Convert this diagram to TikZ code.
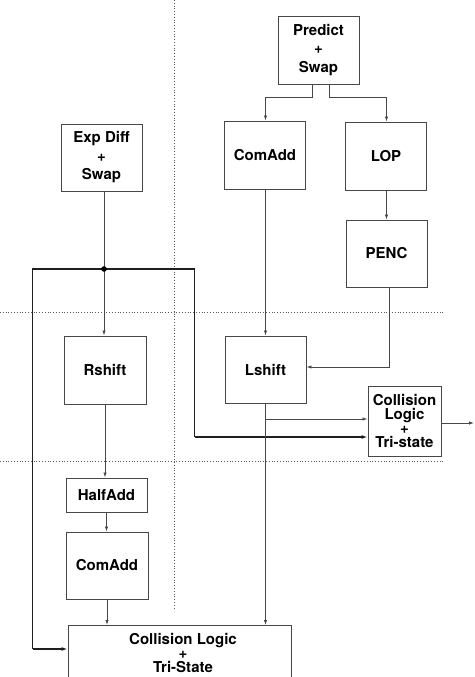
\documentclass[tikz,border=0pt]{standalone}
\usepackage{fontspec}
\setmainfont{TeX Gyre Heros}
\usetikzlibrary{arrows.meta,calc}
\begin{document}
\begin{tikzpicture}[x=1pt,y=-1pt,
  box/.style={draw=black!72,line width=0.9pt,inner sep=0pt,align=center,
    font=\bfseries\fontsize{15}{18.5}\selectfont},
  tight/.style={font=\bfseries\fontsize{15}{14}\selectfont},
  ln/.style={draw=black!72,line width=0.8pt},
  arr/.style={ln,-{Latex[length=5pt,width=3.4pt]}},
  thk/.style={draw=black!88,line width=1.6pt},
  thkarr/.style={thk,-{Latex[length=6pt,width=4pt]}},
  sep/.style={draw=black!65,line width=0.8pt,dotted}]
\useasboundingbox (0,0) rectangle (474,677);
% separators
\draw[sep] (174,0) -- (174,609);
\draw[sep] (0,312) -- (445,312);
\draw[sep] (0,461) -- (443,461);
% boxes
\node[box,minimum width=81pt,minimum height=68pt] (pred) at (318.5,50) {Predict\\+\\Swap};
\node[box,minimum width=81pt,minimum height=67pt] (exp) at (101.5,157.5) {Exp Diff\\+\\Swap};
\node[box,minimum width=81pt,minimum height=68pt] (cadd1) at (265,155) {ComAdd};
\node[box,minimum width=81pt,minimum height=68pt] (lop) at (386,156) {LOP};
\node[box,minimum width=81pt,minimum height=67pt] (penc) at (386.5,253.5) {PENC};
\node[box,minimum width=82pt,minimum height=68pt] (rsh) at (105,370) {Rshift};
\node[box,minimum width=81pt,minimum height=67pt] (lsh) at (265.5,369.5) {Lshift};
\node[box,tight,minimum width=73pt,minimum height=70pt] (coll) at (404.5,421) {Collision\\Logic\\+\\Tri-state};
\node[box,minimum width=81pt,minimum height=34pt] (half) at (106.5,495) {HalfAdd};
\node[box,minimum width=82pt,minimum height=67pt] (cadd2) at (107,565.5) {ComAdd};
\node[box,minimum width=223pt,minimum height=80pt,anchor=north] (collb) at (179.5,625) {};
\node[tight,align=center,inner sep=0pt] (collbt) at (183,653) {Collision Logic\\+\\Tri-State};
% connectors
\draw[arr] ([xshift=-6.5pt]pred.south) -- ++(0,13) -| ([xshift=0.5pt]cadd1.north);
\draw[arr] ([xshift=10.5pt]pred.south) -- ++(0,13) -| ([xshift=0.5pt]lop.north);
\draw[arr] ([xshift=0.5pt]cadd1.south) -- ([xshift=0.5pt]cadd1.south |- lsh.north);
\draw[arr] ([xshift=0.5pt]lop.south) -- ([xshift=0.5pt]lop.south |- penc.north);
\draw[arr] ([xshift=2.5pt]penc.south) |- ([yshift=2.5pt]lsh.east);
\coordinate (j) at (104,269);
\draw[ln] (exp.south -| j) -- (j);
\draw[arr] (j) -- (rsh.north -| j);
\draw[arr] (rsh.south) -- (rsh.south |- half.north);
\draw[arr] (half.south) -- (half.south |- cadd2.north);
\draw[arr] (cadd2.south) -- (cadd2.south |- collb.north);
\coordinate (cbin) at ([yshift=-24pt]collb.north west);
\draw[thk] (j) -| ([xshift=-35pt]cbin);
\draw[thkarr] ([xshift=-35pt]cbin) -- (cbin);
\coordinate (crin) at ([yshift=-16pt]coll.west);
\draw[thk] (j) -| ([xshift=-173pt]crin);
\draw[thkarr] ([xshift=-173pt]crin) -- (crin);
\draw[arr] (lsh.south) -- (lsh.south |- collb.north);
\draw[arr] ([yshift=2pt]coll.west -| lsh.south) -- ([yshift=2pt]coll.west);
\coordinate (out) at (474,423);
\draw[arr] (coll.east |- out) -- (out);
\fill[black] (j) circle (2.8pt);
\end{tikzpicture}
\end{document}
